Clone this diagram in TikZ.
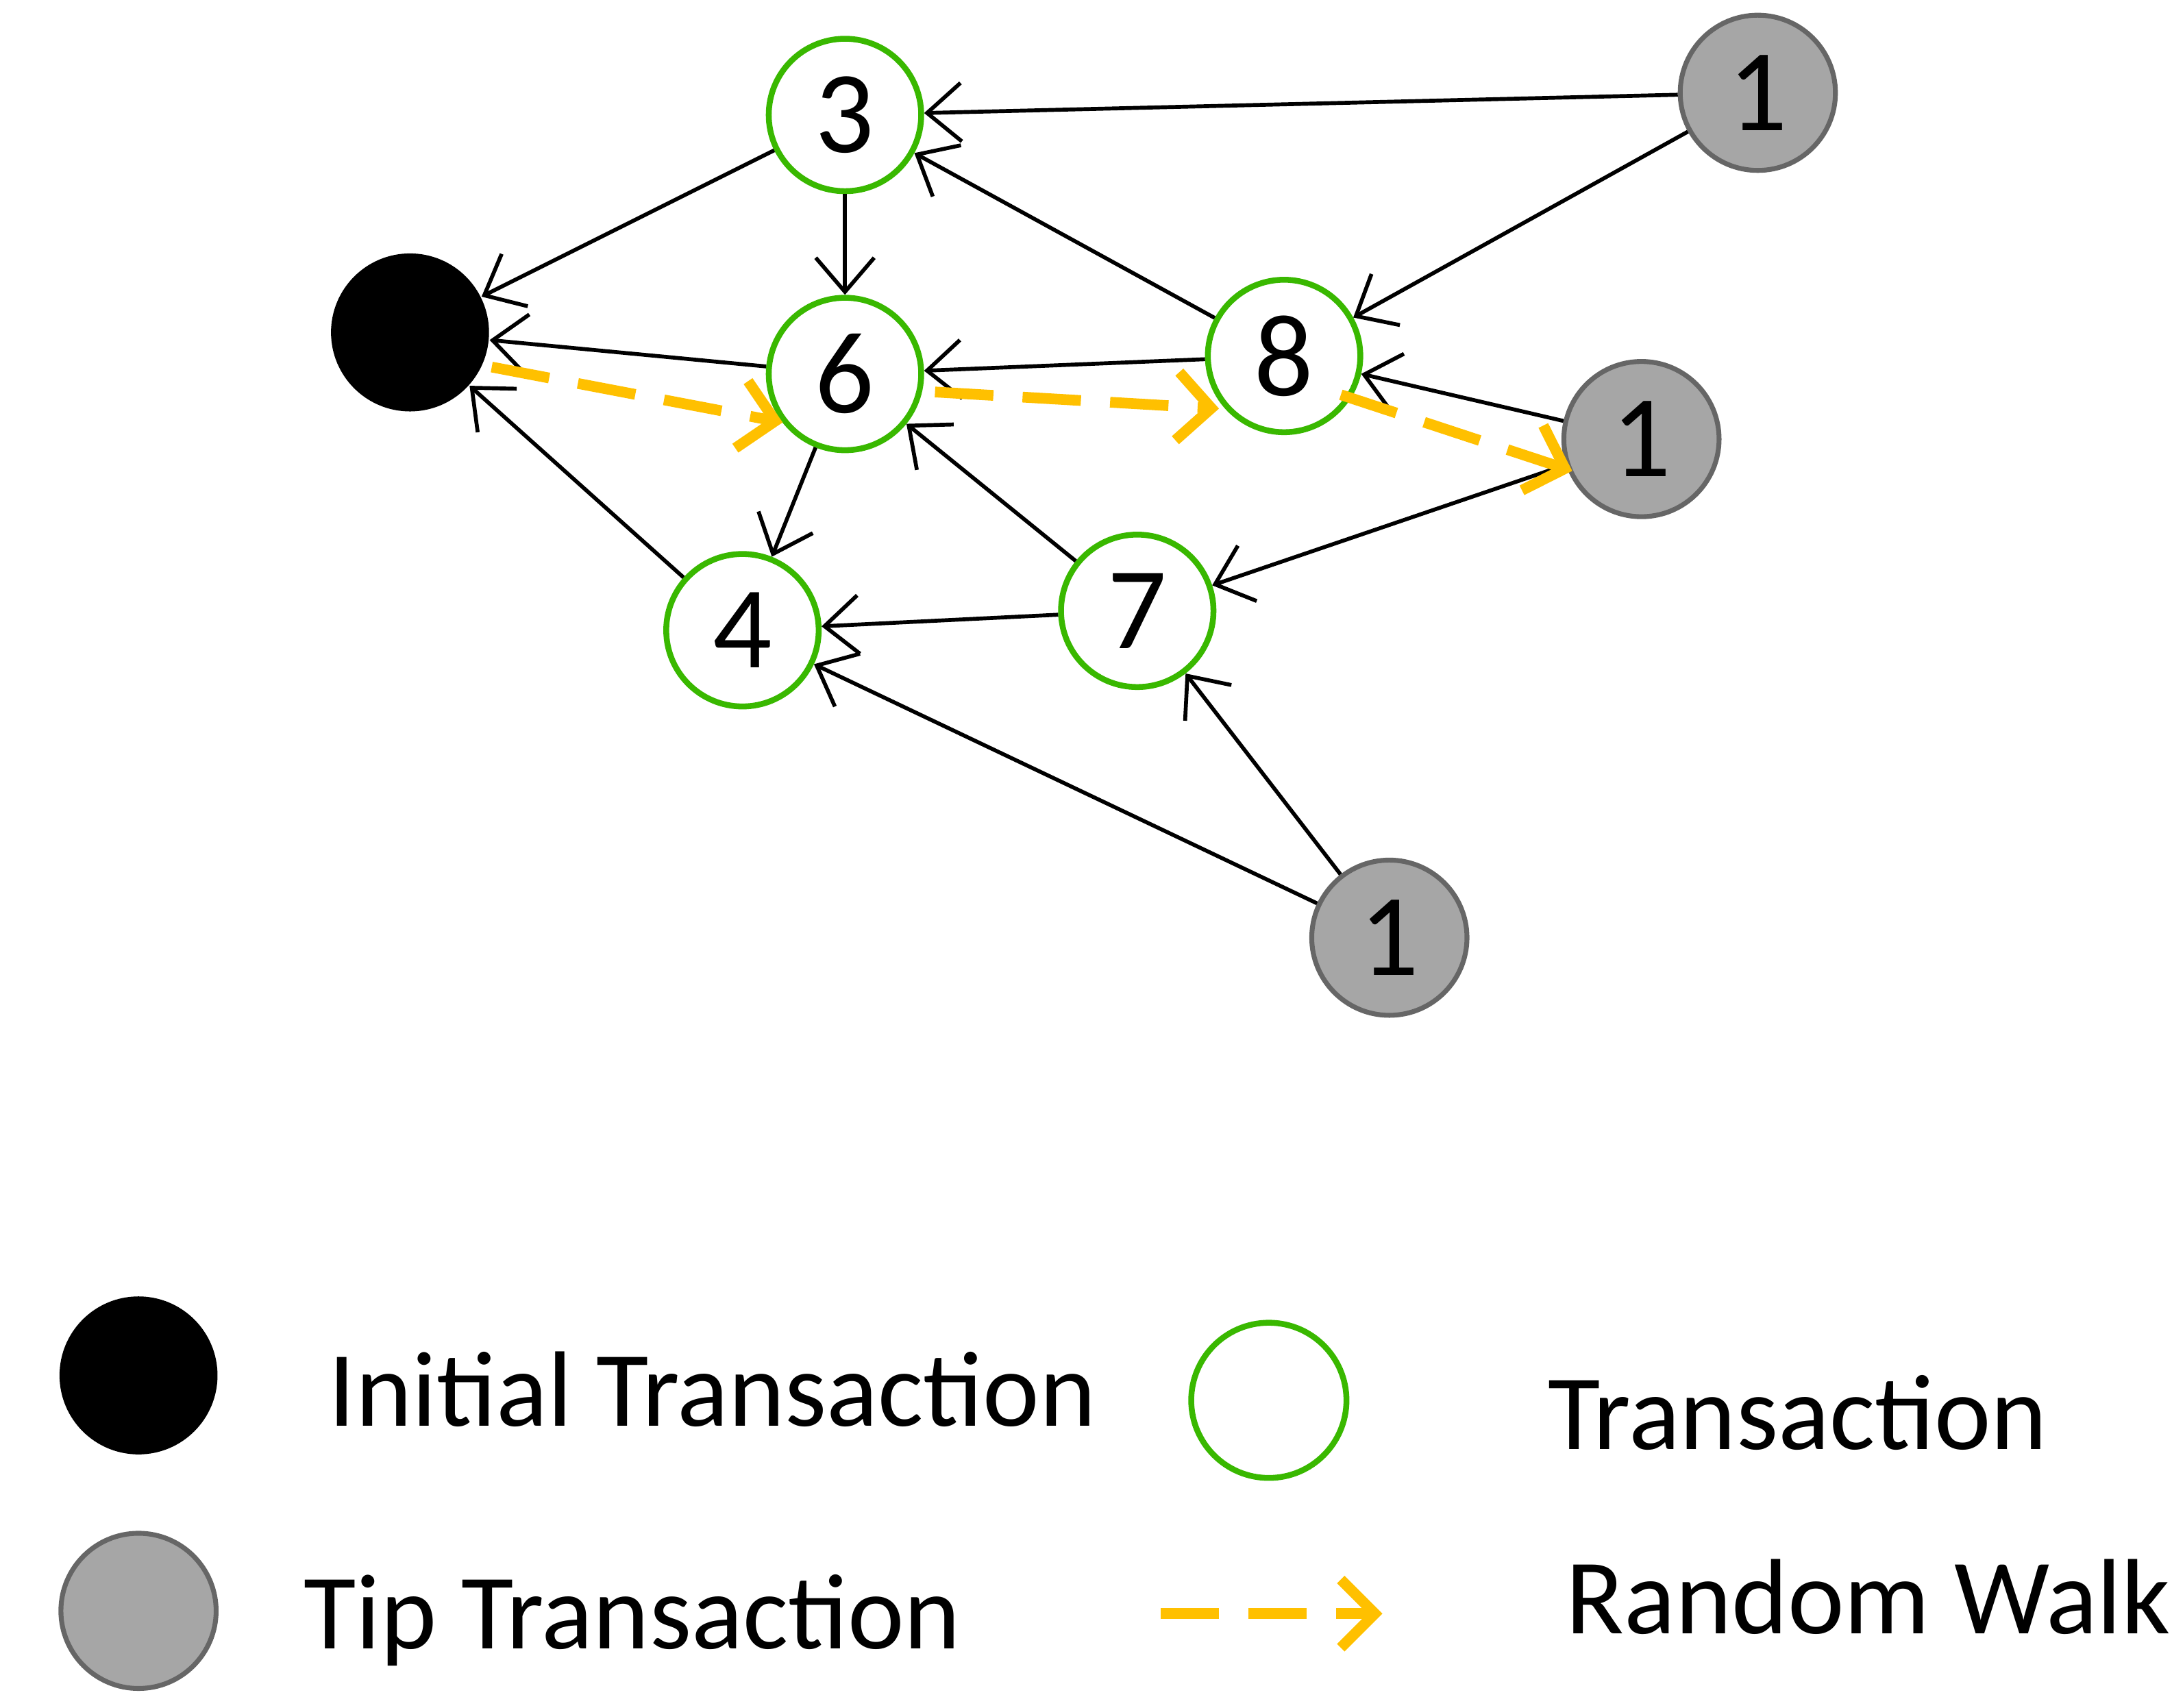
\documentclass[tikz,border=0pt]{standalone}
\usepackage{fontspec}
\setmainfont{Carlito}
\usetikzlibrary{arrows.meta}
\begin{document}
\begin{tikzpicture}[x=0.01cm,y=-0.01cm,
  tx/.style={circle,draw=green!60!black!70!lime,line width=1.2pt,fill=white,minimum size=1.1cm,inner sep=0pt,font=\fontsize{24}{24}\selectfont},
  tip/.style={circle,draw=gray!80!black,line width=1pt,fill=gray!70,minimum size=1.12cm,inner sep=0pt,font=\fontsize{24}{24}\selectfont},
  init/.style={circle,fill=black,minimum size=1.14cm,inner sep=0pt},
  e/.style={-{Straight Barb[length=7pt,width=12pt]},line width=0.8pt},
  rw/.style={-{Straight Barb[length=7pt,width=14pt,line width=2.2pt]},dash pattern=on 12pt off 6pt,line width=2.2pt,draw={rgb,255:red,255;green,192;blue,0}},
  lab/.style={font=\fontsize{22}{22}\selectfont,anchor=west}]
\useasboundingbox (0,0) rectangle (1568,1233);
\node[init] (i) at (296,240) {};
\node[tx] (n3) at (610,83) {3};
\node[tx] (n6) at (610,270) {6};
\node[tx] (n8) at (927,257) {8};
\node[tx] (n4) at (536,455) {4};
\node[tx] (n7) at (821,441) {7};
\node[tip] (a) at (1269,67) {1};
\node[tip] (b) at (1185,317) {1};
\node[tip] (c) at (1003,677) {1};
\draw[e] (n3) -- (i);
\draw[e] (a) -- (n3);
\draw[e] (n3) -- (n6);
\draw[e] (a) -- (n8);
\draw[e] (n8) -- (n3);
\draw[e] (n6) -- (i);
\draw[e] (n8) -- (n6);
\draw[e] (b) -- (n8);
\draw[e] (n4) -- (i);
\draw[e] (n6) -- (n4);
\draw[e] (n7) -- (n6);
\draw[e] (b) -- (n7);
\draw[e] (n7) -- (n4);
\draw[e] (c) -- (n4);
\draw[e] (c) -- (n7);
\coordinate (r1) at (355,265); \coordinate (r2) at (565,305);
\coordinate (r3) at (675,283); \coordinate (r4) at (880,295);
\coordinate (r5) at (968,285); \coordinate (r6) at (1135,340);
\draw[rw] (r1) -- (r2);
\draw[rw] (r3) -- (r4);
\draw[rw] (r5) -- (r6);
% legend
\node[init] (li) at (100,993) {};
\node[tx,minimum size=1.12cm] (lt) at (916,1011) {};
\node[tip] (lg) at (100,1163) {};
\coordinate (la) at (838,1165); \coordinate (lb) at (998,1165);
\draw[rw] (la) -- (lb);
\node[lab] (t1) at (225,1003) {Initial Transaction};
\node[lab] (t2) at (1105,1020) {Transaction};
\node[lab] (t3) at (207,1170) {Tip Transaction};
\node[lab] (t4) at (1118,1153) {Random Walk};
\end{tikzpicture}
\end{document}
